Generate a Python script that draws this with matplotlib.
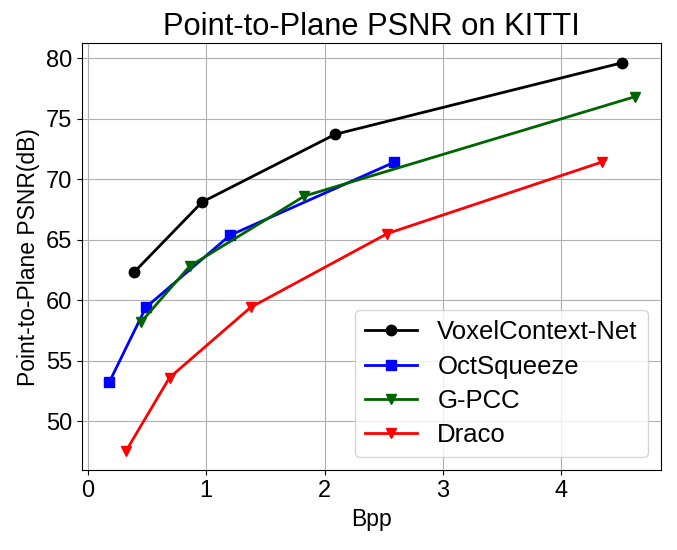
import matplotlib
matplotlib.use("Agg")
import matplotlib.pyplot as plt

plt.rcParams["font.family"] = ["Liberation Sans", "DejaVu Sans"]

# Bpp / PSNR values
voxel_bpp = [0.39, 0.965, 2.09, 4.51]
voxel_psnr = [62.3, 68.1, 73.7, 79.6]

oct_bpp = [0.18, 0.49, 1.20, 2.59]
oct_psnr = [53.2, 59.4, 65.35, 71.4]

gpcc_bpp = [0.45, 0.86, 1.83, 4.62]
gpcc_psnr = [58.2, 62.8, 68.6, 76.8]

draco_bpp = [0.32, 0.69, 1.375, 2.53, 4.34]
draco_psnr = [47.5, 53.6, 59.4, 65.5, 71.4]

fig, ax = plt.subplots(figsize=(6.77, 5.5), dpi=100)

ax.plot(voxel_bpp, voxel_psnr, marker="o", color="black", linewidth=2, markersize=7.5, label="VoxelContext-Net")
ax.plot(oct_bpp, oct_psnr, marker="s", color="blue", linewidth=2, markersize=7.5, label="OctSqueeze")
ax.plot(gpcc_bpp, gpcc_psnr, marker="v", color="darkgreen", linewidth=2, markersize=7.5, label="G-PCC")
ax.plot(draco_bpp, draco_psnr, marker="v", color="red", linewidth=2, markersize=7.5, label="Draco")

ax.set_title("Point-to-Plane PSNR on KITTI", fontsize=22.2)
ax.set_xlabel("Bpp", fontsize=16.5)
ax.set_ylabel("Point-to-Plane PSNR(dB)", fontsize=16.5)
ax.tick_params(labelsize=17)
ax.set_xlim(-0.05, 4.84)
ax.set_ylim(45.95, 81.25)
ax.grid(True)
ax.legend(loc="lower right", fontsize=18.5, labelspacing=0.4)

plt.subplots_adjust(left=0.121, right=0.976, top=0.922, bottom=0.145)
plt.savefig("out.png")
